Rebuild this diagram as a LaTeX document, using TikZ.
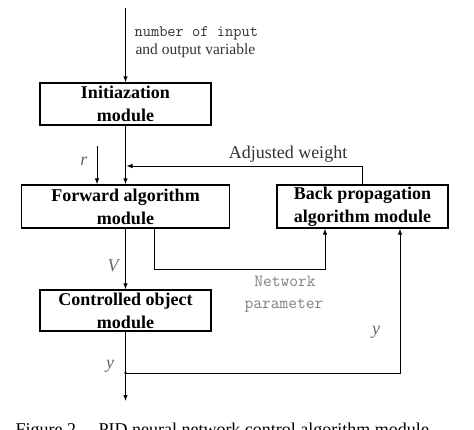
\documentclass[tikz,border=0pt]{standalone}
\usepackage{fontspec}
\setmainfont{Liberation Serif}
\usetikzlibrary{arrows.meta}
\newcommand{\boxwidth}{1.3pt}
\newcommand{\linewidthc}{0.9pt}
\definecolor{labelgray}{gray}{0.4}
\definecolor{notegray}{gray}{0.5}

\begin{document}
\begin{tikzpicture}[x=1pt,y=-1pt,
  module/.style={draw, line width=\boxwidth, inner sep=0pt, align=center,
    font=\fontsize{18}{23}\selectfont\bfseries},
  conn/.style={line width=\linewidthc, -{Latex[length=6pt,width=4.5pt]}},
  var/.style={text=labelgray, font=\fontsize{18}{20}\selectfont\itshape}]
\useasboundingbox (0,0) rectangle (474,430);
\clip (0,0) rectangle (474,430);
\node[module, minimum width=171, minimum height=42] (init) at (125.5,104) {Initiazation\\module};
\node[module, minimum width=208, minimum height=43] (fwd) at (125.5,206.5) {Forward algorithm\\module};
\node[module, minimum width=171, minimum height=43] (back) at (362.5,206.5) {Back propagation\\algorithm module};
\node[module, minimum width=171, minimum height=41] (ctl) at (125.5,310.5) {Controlled object\\module};
\coordinate (in) at (125.5,8);
\coordinate (rin) at (97,146);
\coordinate (aw) at (126.5,166);
\coordinate (br) at (125.5,373);
\coordinate (out) at (125.5,401);
%input
\draw[conn] (in) -- (init.north);
\node[anchor=west, text=black!80, font=\fontsize{16}{16}\selectfont\ttfamily] (nin) at (131,33) {number of input};
\node[anchor=west, text=black!80, font=\fontsize{15.5}{16}\selectfont] (nout) at (132,51) {and output variable};
%forward part
\draw[conn] (init.south) -- (fwd.north);
\draw[conn] (rin) -- (rin |- fwd.north);
\node[var] (r) at (84,161) {r};
\draw[conn] (back.north) |- (aw);
\node[text=black!80, font=\fontsize{18}{20}\selectfont] (adj) at (288,154) {Adjusted weight};
\draw[conn] ([xshift=28.5]fwd.south) |- (325,269) -- ([xshift=-37.5]back.south);
\node[text=notegray, font=\fontsize{17}{17}\selectfont\ttfamily] (net) at (285,281) {Network};
\node[text=notegray, font=\fontsize{17}{17}\selectfont\ttfamily] (par) at (284,306) {parameter};
\draw[conn] (fwd.south) -- (ctl.north);
\node[var] (v) at (113,266) {V};
%output
\draw[conn] (ctl.south) -- (out);
\draw[conn] (br) -| ([xshift=37.5]back.south);
\fill (br) circle (1.4);
\node[var] (y1) at (110,366) {y};
\node[var] (y2) at (376,332) {y};
\node[anchor=north west, font=\fontsize{18}{20}\selectfont] (cap) at (12,419) {Figure 2\quad\ PID neural network control algorithm module};
\end{tikzpicture}
\end{document}
